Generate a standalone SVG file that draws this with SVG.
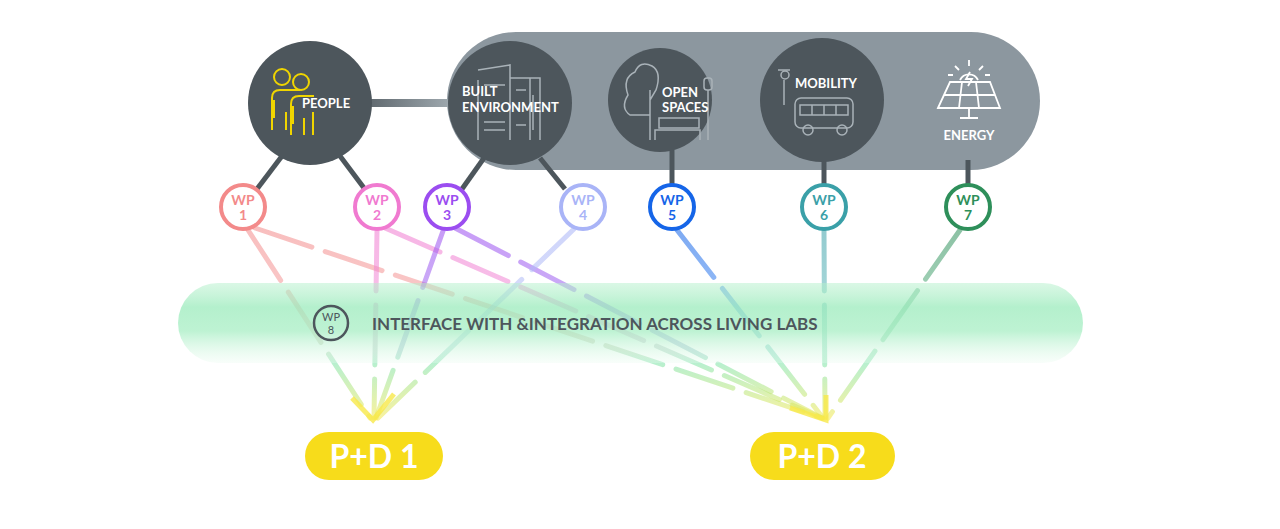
<svg xmlns="http://www.w3.org/2000/svg" width="1280" height="529" viewBox="0 0 1280 529">
<style>
.dk{fill:#4D565C}
.lbl{font-family:Lato,"Open Sans",sans-serif;font-weight:bold;fill:#fff;font-size:13px}
.wp{fill:#fff;stroke-width:4}
.wpt{font-family:Lato,sans-serif;font-weight:bold;font-size:14px;text-anchor:middle}
.wp8{font-family:Lato,sans-serif;font-size:11px;text-anchor:middle;fill:#4D565C}
.ic{fill:none;stroke:#A9B2B8;stroke-width:1.5}
.ln{fill:none;stroke-width:5;stroke-linecap:round;opacity:.55}
.lnk{stroke:#4D565C;stroke-width:5}
.pd{fill:#F7DC1B}
.pdt{font-family:Lato,sans-serif;font-weight:bold;font-size:32px;fill:#fff;text-anchor:middle}
</style>
<defs>
<linearGradient id="g1" gradientUnits="userSpaceOnUse" x1="0" y1="230" x2="0" y2="420"><stop offset="0" stop-color="#F38A8A"/><stop offset=".5" stop-color="#F5A0A0"/><stop offset=".7" stop-color="#7DE3A8"/><stop offset="1" stop-color="#F7E84A"/></linearGradient>
<linearGradient id="g2" gradientUnits="userSpaceOnUse" x1="0" y1="230" x2="0" y2="420"><stop offset="0" stop-color="#F07AD0"/><stop offset=".5" stop-color="#F290D8"/><stop offset=".7" stop-color="#7DE3A8"/><stop offset="1" stop-color="#F7E84A"/></linearGradient>
<linearGradient id="g3" gradientUnits="userSpaceOnUse" x1="0" y1="230" x2="0" y2="420"><stop offset="0" stop-color="#9B4DF0"/><stop offset=".5" stop-color="#A070F0"/><stop offset=".7" stop-color="#7DE3A8"/><stop offset="1" stop-color="#F7E84A"/></linearGradient>
<linearGradient id="g4" gradientUnits="userSpaceOnUse" x1="0" y1="230" x2="0" y2="420"><stop offset="0" stop-color="#A9B4F7"/><stop offset=".5" stop-color="#B8C2F7"/><stop offset=".7" stop-color="#7DE3A8"/><stop offset="1" stop-color="#F7E84A"/></linearGradient>
<linearGradient id="g5" gradientUnits="userSpaceOnUse" x1="0" y1="230" x2="0" y2="420"><stop offset="0" stop-color="#1565E8"/><stop offset=".4" stop-color="#3D85F0"/><stop offset=".7" stop-color="#7DE3A8"/><stop offset="1" stop-color="#F7E84A"/></linearGradient>
<linearGradient id="g6" gradientUnits="userSpaceOnUse" x1="0" y1="230" x2="0" y2="420"><stop offset="0" stop-color="#3AA0A8"/><stop offset=".4" stop-color="#60B8BC"/><stop offset=".7" stop-color="#7DE3A8"/><stop offset="1" stop-color="#F7E84A"/></linearGradient>
<linearGradient id="g7" gradientUnits="userSpaceOnUse" x1="0" y1="230" x2="0" y2="420"><stop offset="0" stop-color="#2E8F5A"/><stop offset=".4" stop-color="#5AB080"/><stop offset=".7" stop-color="#7DE3A8"/><stop offset="1" stop-color="#F7E84A"/></linearGradient>
<linearGradient id="band" x1="0" y1="0" x2="0" y2="1"><stop offset="0" stop-color="#B5F0CC" stop-opacity=".5"/><stop offset=".3" stop-color="#9BEBBC" stop-opacity=".75"/><stop offset=".6" stop-color="#A8EEC4" stop-opacity=".75"/><stop offset="1" stop-color="#E8FBEF" stop-opacity=".3"/></linearGradient>
<linearGradient id="bar" x1="0" y1="0" x2="1" y2="0"><stop offset="0" stop-color="#5F686E"/><stop offset="1" stop-color="#A0AAB0"/></linearGradient>
</defs>

<g id="pill">
<rect x="447" y="32" width="593" height="138" rx="69" fill="#8C979F"/>
</g>

<g id="connectors">
<rect x="368" y="99" width="84" height="8" fill="url(#bar)"/>
<line class="lnk" x1="282" y1="156" x2="257" y2="189"/>
<line class="lnk" x1="340" y1="156" x2="364" y2="188"/>
<line class="lnk" x1="484" y1="158" x2="462" y2="189"/>
<line class="lnk" x1="540" y1="158" x2="565" y2="189"/>
<line class="lnk" x1="672" y1="150" x2="672" y2="185"/>
<line class="lnk" x1="824" y1="160" x2="824" y2="185"/>
<line class="lnk" x1="968" y1="160" x2="968" y2="185"/>
<g stroke-dasharray="60 14">
<line class="ln" stroke="url(#g1)" x1="248" y1="230" x2="370" y2="418"/>
<line class="ln" stroke="url(#g1)" x1="255" y1="228" x2="822" y2="418"/>
<line class="ln" stroke="url(#g2)" x1="377" y1="231" x2="374" y2="418"/>
<line class="ln" stroke="url(#g2)" x1="385" y1="228" x2="822" y2="418"/>
<line class="ln" stroke="url(#g3)" x1="443" y1="231" x2="376" y2="418"/>
<line class="ln" stroke="url(#g3)" x1="455" y1="228" x2="822" y2="418"/>
<line class="ln" stroke="url(#g4)" x1="575" y1="228" x2="378" y2="418"/>
<line class="ln" stroke="url(#g5)" x1="677" y1="230" x2="823" y2="418"/>
<line class="ln" stroke="url(#g6)" x1="824" y1="231" x2="825" y2="418"/>
<line class="ln" stroke="url(#g7)" x1="960" y1="230" x2="828" y2="418"/>
</g>
<path d="M352 398 L373 420 L394 394" fill="none" stroke="#F7E84A" stroke-width="5" opacity=".8"/>
<path d="M790 408 L826 420 L826 395" fill="none" stroke="#F7E84A" stroke-width="5" opacity=".8"/>
</g>

<g id="band-wp8">
<rect x="178" y="283" width="905" height="80" rx="40" fill="url(#band)"/>
<circle cx="331" cy="323" r="17" fill="none" stroke="#4D565C" stroke-width="2.5"/>
<text class="wp8" x="331" y="321">WP</text>
<text class="wp8" x="331" y="334">8</text>
<text x="372" y="330" font-family="Lato,sans-serif" font-weight="bold" font-size="17" fill="#4D565C">INTERFACE WITH &amp;INTEGRATION ACROSS LIVING LABS</text>
</g>

<g id="people">
<circle cx="310" cy="103" r="62" class="dk"/>
<g fill="none" stroke="#F0D500" stroke-width="2">
<circle cx="282" cy="77" r="8"/><circle cx="301" cy="82" r="8"/>
<path d="M272 130 V98 Q272 90 280 90 H300 M274 100 V118 M286 130 V112"/>
<path d="M291 135 V104 Q291 96 299 96 H314 M293 106 V124 M304 135 V118 M313 135 V112"/>
</g>
<text class="lbl" x="302" y="108">PEOPLE</text>
</g>

<g id="built">
<circle cx="510" cy="103" r="62" class="dk"/>
<g class="ic"><path d="M478 80 V140 M478 70 L510 65 V140 M510 78 H540 V140 M530 78 V140"/><path d="M484 85 H505 M484 122 H505 M484 130 H505 M516 90 H526 M516 125 H526 M533 95 V130"/></g>
<text class="lbl" x="462" y="96">BUILT</text>
<text class="lbl" x="462" y="112">ENVIRONMENT</text>
</g>

<g id="open">
<circle cx="660" cy="100" r="52" class="dk"/>
<g class="ic"><path d="M650 140 V90 M650 115 H630 Q620 108 628 95 Q622 78 635 72 Q640 60 652 66 Q662 72 656 90 L650 100"/><rect x="659" y="118" width="40" height="10"/><path d="M655 140 V130 H700 V140 M708 140 V90"/><rect x="704" y="78" width="8" height="12" rx="3"/></g>
<text class="lbl" x="662" y="97">OPEN</text>
<text class="lbl" x="662" y="112">SPACES</text>
</g>

<g id="mobility">
<circle cx="822" cy="100" r="62" class="dk"/>
<g class="ic"><circle cx="785" cy="75" r="4"/><path d="M778 70 H790 M784 80 V105"/><rect x="795" y="98" width="58" height="30" rx="6"/><path d="M800 105 H848 V115 H800 Z M812 105 V115 M824 105 V115 M836 105 V115"/><circle cx="808" cy="130" r="5"/><circle cx="842" cy="130" r="5"/></g>
<text class="lbl" x="795" y="88">MOBILITY</text>
</g>

<g id="energy">
<g fill="none" stroke="#fff" stroke-width="1.8"><path d="M938 108 L950 82 H990 L1000 108 Z M944 95 H995 M962 82 L959 108 M976 82 L979 108 M969 108 V118 M960 118 H978"/><path d="M960 80 A10 10 0 0 1 978 80 M969 60 V66 M955 66 L959 70 M983 66 L979 70 M948 75 H953 M985 75 H990"/><path d="M970 72 L966 79 H972 L968 86"/></g>
<text class="lbl" x="969" y="140" text-anchor="middle">ENERGY</text>
</g>

<g id="wp">
<circle class="wp" cx="243" cy="207" r="22" stroke="#F38A8A"/><text class="wpt" x="243" y="205" fill="#F38A8A">WP</text><text class="wpt" x="243" y="220" fill="#F38A8A">1</text>
<circle class="wp" cx="377" cy="207" r="22" stroke="#F07AD0"/><text class="wpt" x="377" y="205" fill="#F07AD0">WP</text><text class="wpt" x="377" y="220" fill="#F07AD0">2</text>
<circle class="wp" cx="447" cy="207" r="22" stroke="#9B4DF0"/><text class="wpt" x="447" y="205" fill="#9B4DF0">WP</text><text class="wpt" x="447" y="220" fill="#9B4DF0">3</text>
<circle class="wp" cx="583" cy="207" r="22" stroke="#A9B4F7"/><text class="wpt" x="583" y="205" fill="#A9B4F7">WP</text><text class="wpt" x="583" y="220" fill="#A9B4F7">4</text>
<circle class="wp" cx="672" cy="207" r="22" stroke="#1565E8"/><text class="wpt" x="672" y="205" fill="#1565E8">WP</text><text class="wpt" x="672" y="220" fill="#1565E8">5</text>
<circle class="wp" cx="824" cy="207" r="22" stroke="#3AA0A8"/><text class="wpt" x="824" y="205" fill="#3AA0A8">WP</text><text class="wpt" x="824" y="220" fill="#3AA0A8">6</text>
<circle class="wp" cx="968" cy="207" r="22" stroke="#2E8F5A"/><text class="wpt" x="968" y="205" fill="#2E8F5A">WP</text><text class="wpt" x="968" y="220" fill="#2E8F5A">7</text>
</g>

<g id="pd1"><rect class="pd" x="305" y="432" width="138" height="48" rx="24"/><text class="pdt" x="374" y="468">P+D 1</text></g>
<g id="pd2"><rect class="pd" x="750" y="432" width="145" height="48" rx="24"/><text class="pdt" x="822" y="468">P+D 2</text></g>
</svg>
